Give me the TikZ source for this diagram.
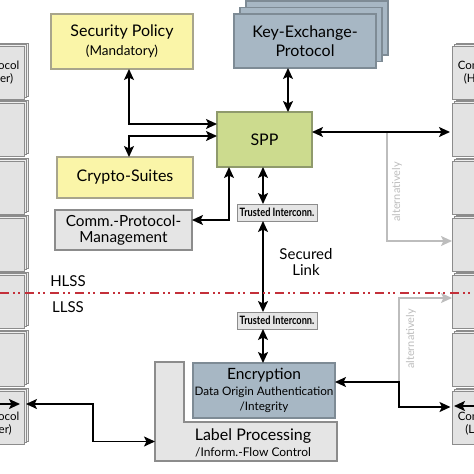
\documentclass[tikz,border=0pt]{standalone}
\usepackage{fontspec}
\setmainfont{Lato}
\usetikzlibrary{arrows.meta}
\definecolor{yelfill}{HTML}{FAF5A8}
\definecolor{yelline}{HTML}{A8A58C}
\definecolor{keyfill}{HTML}{A7B7C4}
\definecolor{keyline}{HTML}{7E8B95}
\definecolor{sppfill}{HTML}{CCDB8E}
\definecolor{sppline}{HTML}{8F9A6C}
\definecolor{gfill}{HTML}{E5E5E5}
\definecolor{gline}{HTML}{8C8C8C}
\definecolor{sidefill}{HTML}{E3E3E3}
\definecolor{sidecopy}{HTML}{EEEEEE}
\definecolor{altgray}{HTML}{BDBDBD}
\definecolor{redline}{HTML}{C4303A}
\begin{document}
\begin{tikzpicture}[x=1pt,y=-1pt,
  bx/.style={rectangle, inner sep=0pt, outer sep=0pt, anchor=north west, align=center, line width=1.2pt},
  yelbox/.style={bx, draw=yelline, fill=yelfill},
  keybox/.style={bx, draw=keyline, fill=keyfill},
  sppbox/.style={bx, draw=sppline, fill=sppfill},
  graybox/.style={bx, draw=gline, fill=gfill},
  tibox/.style={bx, draw=gline, fill=gfill, line width=1pt, minimum width=80pt, minimum height=17pt,
     font=\bfseries\fontsize{11.5}{12}\selectfont},
  sideface/.style={bx, draw=gline, fill=sidefill, line width=1pt, minimum height=53pt},
  sidecp/.style={draw=gline, fill=sidecopy, line width=0.8pt},
  arr/.style={line width=1.8pt, {Stealth[length=11pt,width=10pt,inset=2.5pt]}-{Stealth[length=11pt,width=10pt,inset=2.5pt]}},
  arrone/.style={line width=1.8pt, -{Stealth[length=11pt,width=10pt,inset=2.5pt]}},
  garr/.style={line width=1.5pt, draw=altgray, -{Stealth[length=11pt,width=10pt,inset=2.5pt]}},
  big/.style={font=\fontsize{16}{19}\selectfont},
  plain/.style={inner sep=0pt, outer sep=0pt, align=center}
]
\useasboundingbox (0,0) rectangle (474,474);
\clip (0,0) rectangle (474,474);

% side stacks
\foreach \n/\t in {1/46, 2/103, 3/161, 4/218, 5/275, 6/333, 7/391} {
  \draw[sidecp] (-16,\t-3) rectangle (28,\t+50);
  \draw[sidecp] (-18,\t-1.5) rectangle (26,\t+51.5);
  \node[sideface, minimum width=44pt] (L\n) at (-20,\t) {};
  \draw[sidecp] (456,\t-3) rectangle (504,\t+50);
  \draw[sidecp] (454,\t-1.5) rectangle (502,\t+51.5);
  \node[sideface, minimum width=48pt] (R\n) at (452,\t) {};
}
\node[plain, font=\fontsize{11.5}{13}\selectfont] (l1t) at (-22,72.5) {Comm.-Protocol\\(Higher Layer)};
\node[plain, font=\fontsize{11.5}{13}\selectfont] (l7t) at (-22,424) {Comm.-Protocol\\(Lower Layer)};
\node[plain, font=\fontsize{11.5}{13}\selectfont] (r1t) at (499,72.5) {Comm.-Protocol\\(Higher Layer)};
\node[plain, font=\fontsize{11.5}{13}\selectfont] (r7t) at (499,424) {Comm.-Protocol\\(Lower Layer)};

% key exchange stack
\draw[keybox] (246,1) rectangle (388,55);
\draw[keybox] (240,7.5) rectangle (382,61.5);
\node[keybox, big, minimum width=142pt, minimum height=54pt] (keyex) at (234,14) {Key-Exchange-\\Protocol};

\node[yelbox, big, minimum width=142pt, minimum height=55pt] (secpol) at (51,14)
  {Security Policy\\{\fontsize{13.5}{14}\selectfont (Mandatory)}};
\node[sppbox, big, minimum width=95pt, minimum height=55pt] (spp) at (217,112) {SPP};
\node[yelbox, big, minimum width=136pt, minimum height=41pt] (crypto) at (57,157) {Crypto-Suites};
\node[graybox, font=\fontsize{15.3}{16}\selectfont, minimum width=137pt, minimum height=40pt] (comm) at (55,210)
  {Comm.-Protocol-\\Management};
\node[tibox] (ti1) at (237,204) {\scalebox{0.8}[1]{Trusted Interconn.}};
\node[tibox] (ti2) at (237,312) {\scalebox{0.8}[1]{Trusted Interconn.}};

% label processing (L shape) and encryption
\draw[line width=1.2pt, draw=gline, fill=gfill] (155,362) -- (184,362) -- (184,422) -- (337,422)
  -- (337,461) -- (155,461) -- cycle;
\node[bx, minimum width=182pt, minimum height=39pt] (labarea) at (155,422) {};
\node[plain, font=\fontsize{16}{16.5}\selectfont] (labtext) at (253,443)
  {Label Processing\\{\fontsize{12}{13}\selectfont /Inform.-Flow Control}};
\node[keybox, minimum width=142pt, minimum height=55pt, font=\fontsize{15.5}{17}\selectfont] (enc) at (193,363)
  {Encryption\\[-1pt]{\fontsize{11.7}{15}\selectfont Data Origin Authentication}\\[-2pt]{\fontsize{11.7}{14}\selectfont /Integrity}};

% texts
\node[plain, font=\fontsize{15}{15}\selectfont] (hlss) at (68,281) {HLSS};
\node[plain, font=\fontsize{15}{15}\selectfont] (llss) at (68,307) {LLSS};
\node[plain, font=\fontsize{15}{15.5}\selectfont] (sec) at (306,262) {Secured\\Link};
\node[plain, rotate=90, text=altgray, font=\fontsize{11}{12}\selectfont] (alt1t) at (397,192) {alternatively};
\node[plain, rotate=90, text=altgray, font=\fontsize{11}{12}\selectfont] (alt2t) at (411,339) {alternatively};

% gray alternative connectors
\coordinate (alt1) at (387,132);
\coordinate (alt2) at (399,382);
\draw[garr] (alt1) |- ([yshift=3.5pt]R4.west);
\draw[garr] (alt2) |- ([yshift=3.5pt]R5.west);

% black connectors
\draw[arr] ([xshift=7pt]secpol.south) |- ([yshift=15.5pt]spp.west);
\draw[arr] ([yshift=3.5pt]spp.west) -| ([xshift=4pt]crypto.north);
\draw[arr] ([xshift=-35.5pt]spp.south) |- ([yshift=10pt]comm.east);
\draw[arr] ([xshift=-17pt]keyex.south) -- ([xshift=23.5pt]spp.north);
\draw[arr] ([xshift=-1.5pt]spp.south) -- ([xshift=-14pt]ti1.north);
\draw[arr] ([xshift=-14pt]ti1.south) -- ([xshift=-14pt]ti2.north);
\draw[arr] ([xshift=-14pt]ti2.south) -- ([xshift=-1pt]enc.north);
\draw[arr] ([yshift=7.5pt]spp.east) -- ([xshift=-2pt,yshift=-2.5pt]R2.west);
\draw[arr] ([yshift=8.5pt]enc.east) -- (alt2) |- ([xshift=-1.5pt,yshift=10.5pt]R7.west);
\draw[arr] ([xshift=2pt,yshift=13.5pt]L7.east) -- (93,404) |- (labarea.west);

% small arrows inside the lower side boxes
\coordinate (l7a) at (-8,404);
\coordinate (r7a) at (482,406);
\draw[arrone] (l7a) -- ([xshift=-4pt,yshift=13.5pt]L7.east);
\draw[arrone] (r7a) -- ([xshift=2pt,yshift=11.5pt]R7.west);

% level separator
\draw[redline, line width=1.8pt, dash pattern=on 9pt off 4pt on 2pt off 3pt on 2pt off 5pt] (0,293) -- (474,293);
\end{tikzpicture}
\end{document}
